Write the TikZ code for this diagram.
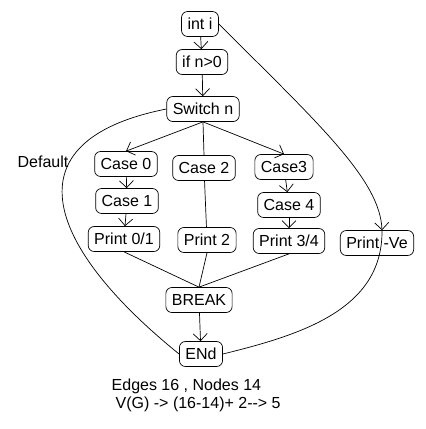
\documentclass[tikz,border=0pt]{standalone}
\usepackage{fontspec}
\setmainfont{Liberation Sans}
\usetikzlibrary{arrows.meta}

\begin{document}
\begin{tikzpicture} [x=1pt, y=-1pt, font=\fontsize{16}{19}\selectfont, line width=0.7pt,
	>={Straight Barb[length=7pt,width=14pt]},
	box/.style={rectangle, rounded corners=6pt, draw, inner xsep=6pt, inner ysep=0pt, minimum height=25pt}]
\useasboundingbox (0,0) rectangle (426,429);
\path (200,24) node[box] (inti) {int i}
	  (202,62) node[box] (ifn) {if n>0}
	  (203,109) node[box] (sw) {Switch n}
	  (126,164) node[box] (c0) {Case 0}
	  (204,168) node[box] (c2) {Case 2}
	  (284,167) node[box] (c3) {Case3}
	  (127,201) node[box] (c1) {Case 1}
	  (289,205) node[box] (c4) {Case 4}
	  (124,239) node[box] (p01) {Print 0/1}
	  (207,240) node[box] (p2) {Print 2}
	  (289,241) node[box] (p34) {Print 3/4}
	  (377,243) node[box] (pve) {Print -Ve}
	  (199,300) node[box] (brk) {BREAK}
	  (201,354) node[box] (endn) {ENd}

(43,162) node (dflt) {Default}
(108,386) node[anchor=west] (eq1) {Edges 16 , Nodes 14}
(112,404) node[anchor=west] (eq2) {V(G) -> (16-14)+ 2-{}-> 5};

\draw[->] (inti) to (ifn);
\draw[->] (ifn) to (sw);
\draw[->] (sw.south) to (c0.north);
\draw (sw.south) to (c2.north);
\draw[->] (sw.south) to (c3.north);
\draw[->] (c0) to (c1);
\draw[->] (c1) to (p01);
\draw (c2) to (p2);
\draw[->] (c3) to (c4);
\draw[->] (c4) to (p34);

\draw (p01.south) to (brk.north);
\draw (p2.south) to (brk.north);
\draw (p34.south) to (brk.north);
\draw[->] (brk) to (endn);

\draw (sw.west) .. controls (5,141) and (48,248) .. (endn.west);
\draw[->] (inti.east) .. controls (320,125) and (380,180) .. ([xshift=5pt]pve.north);
\draw ([xshift=5pt]pve.north) .. controls (383,310) and (300,335) .. (endn.east);

\end{tikzpicture}
\end{document}
